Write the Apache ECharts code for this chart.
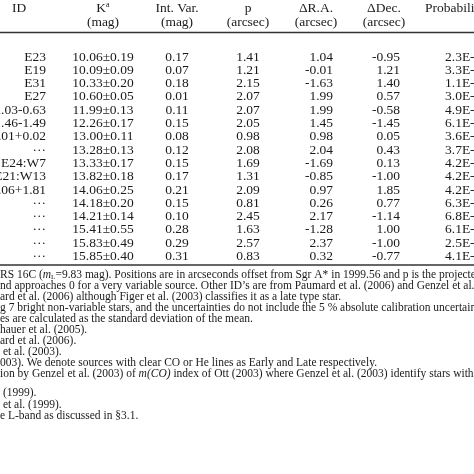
<!DOCTYPE html>
<html><head><meta charset="utf-8">
<script src="https://cdn.jsdelivr.net/npm/echarts@6/dist/echarts.min.js"></script>
<style>html,body{margin:0;padding:0;background:#fff}#c{width:474px;height:474px}</style>
</head><body><div id="c"></div>
<script>
const ids = ['E23','E19','E31','E27','2.03-0.63','1.46-1.49','.01+0.02','···','E24:W7','E21:W13','.06+1.81','···','···','···','···','···'];
const kmag = ['10.06±0.19','10.09±0.09','10.33±0.20','10.60±0.05','11.99±0.13','12.26±0.17','13.00±0.11','13.28±0.13','13.33±0.17','13.82±0.18','14.06±0.25','14.18±0.20','14.21±0.14','15.41±0.55','15.83±0.49','15.85±0.40'];
const intVar = ['0.17','0.07','0.18','0.01','0.11','0.15','0.08','0.12','0.15','0.17','0.21','0.15','0.10','0.28','0.29','0.31'];
const pSep = ['1.41','1.21','2.15','2.07','2.07','2.05','0.98','2.08','1.69','1.31','2.09','0.81','2.45','1.63','2.57','0.83'];
const dRA = ['1.04','-0.01','-1.63','1.99','1.99','1.45','0.98','2.04','-1.69','-0.85','0.97','0.26','2.17','-1.28','2.37','0.32'];
const dDec = ['-0.95','1.21','1.40','0.57','-0.58','-1.45','0.05','0.43','0.13','-1.00','1.85','0.77','-1.14','1.00','-1.00','-0.77'];
const prob = ['2.3E-23','3.3E-05','1.1E-15','3.0E-01','4.9E-19','6.1E-14','3.6E-04','3.7E-09','4.2E-06','4.2E-07','4.2E-10','6.3E-04','6.8E-04','6.1E-06','2.5E-04','4.1E-06'];
const headers1 = ['ID','K','Int. Var.','p','ΔR.A.','ΔDec.','Probabili'];
const headers2 = ['','(mag)','(mag)','(arcsec)','(arcsec)','(arcsec)',''];
const notes = [
 '{n|RS 16C (}{i|m}{s|L}{n|=9.83 mag). Positions are in arcseconds offset from Sgr A* in 1999.56 and p is the projected}',
 'nd approaches 0 for a very variable source. Other ID\u2019s are from Paumard et al. (2006) and Genzel et al. (2003)',
 'ard et al. (2006) although Figer et al. (2003) classifies it as a late type star.',
 'g 7 bright non-variable stars, and the uncertainties do not include the 5 % absolute calibration uncertainties',
 'es are calculated as the standard deviation of the mean.',
 'hauer et al. (2005).',
 'ard et al. (2006).',
 ' et al. (2003).',
 '003). We denote sources with clear CO or He lines as Early and Late respectively.',
 '{n|ion by Genzel et al. (2003) of }{i|m(CO)}{n| index of Ott (2003) where Genzel et al. (2003) identify stars with }{i|m(CO)}',
 '',
 ' (1999).',
 ' et al. (1999).',
 'e L-band as discussed in §3.1.'
];
const F = '"Liberation Serif","DejaVu Serif",serif';
const C = '#1a1a1a';
const chart = echarts.init(document.getElementById('c'));
const g = [];
function t(x,y,text,align,size){
  g.push({type:'text',x:x,y:y,style:{text:text,fill:C,font:(size||13.5)+'px '+F,align:align||'left',verticalAlign:'middle'}});
}
const hx = [[12,'left'],[103,'center'],[177,'center'],[248,'center'],[316,'center'],[384,'center'],[425,'left']];
headers1.forEach((h,i)=>{
  if(i===1){
    g.push({type:'text',x:103,y:8,style:{text:'{a|K}{s|a}',align:'center',verticalAlign:'middle',rich:{a:{font:'13.5px '+F,fill:C},s:{font:'8px '+F,fill:C,verticalAlign:'top',padding:[0,0,7,0]}}}});
  } else t(hx[i][0],8,h,hx[i][1]);
  if(headers2[i]) t(hx[i][0],22,headers2[i],hx[i][1]);
});
g.push({type:'line',shape:{x1:0,y1:32.5,x2:474,y2:32.5},style:{stroke:'#333',lineWidth:1.6}});
g.push({type:'line',shape:{x1:0,y1:265,x2:474,y2:265},style:{stroke:'#333',lineWidth:1.6}});
const y0=57, dy=13.3;
for(let i=0;i<ids.length;i++){
  const y=y0+i*dy;
  t(46,y,ids[i],'right');
  t(103,y,kmag[i],'center');
  t(177,y,intVar[i],'center');
  t(248,y,pSep[i],'center');
  t(333,y,dRA[i],'right');
  t(400,y,dDec[i],'right');
  t(445,y,prob[i],'left');
}
const ny=[275,286,297,308,318.5,330,341,352,363,374,385,393,405,416];
const rich={n:{font:'11.5px '+F,fill:C},i:{font:'italic 11.5px '+F,fill:C},s:{font:'7px '+F,fill:C,verticalAlign:'bottom',padding:[4,0,0,0]}};
notes.forEach((n,i)=>{
  if(!n) return;
  if(n.indexOf('{')===0) g.push({type:'text',x:0,y:ny[i],style:{text:n,rich:rich,align:'left',verticalAlign:'middle'}});
  else t(0,ny[i],n,'left',11.5);
});
chart.setOption({animation:false,graphic:g});
</script></body></html>
